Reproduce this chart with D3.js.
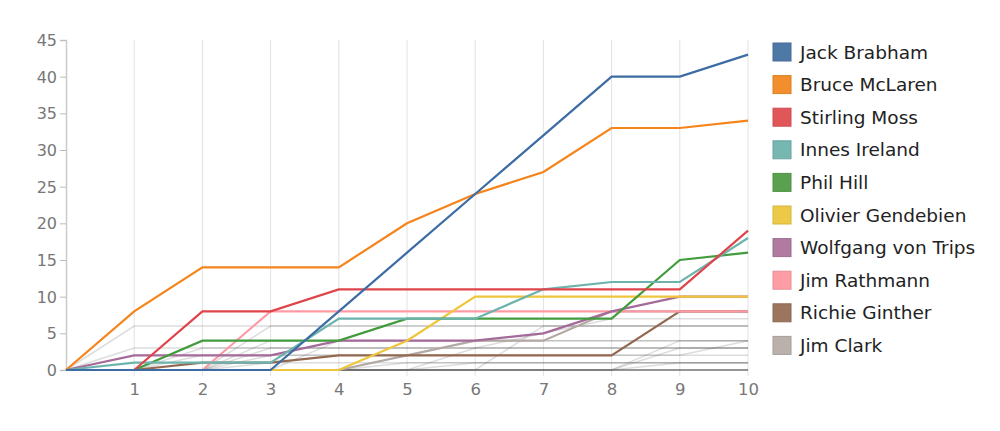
<!DOCTYPE html>
<html>
<head>
    <meta charset="utf-8">
    <style>
        body { margin: 0; padding: 0; overflow: hidden; background-color: #fff; }
        text { font-family: "DejaVu Sans", sans-serif; }
        .axis text { fill: #777; font-size: 16px; }
        .legend text { fill: #222; font-size: 18.5px; }
    </style>
</head>
<body>
    <div id="chart"></div>
    <script src="https://d3js.org/d3.v7.min.js"></script>
    <script>
        // race index 0 = start, 1..10 = rounds
        var rounds = [0, 1, 2, 3, 4, 5, 6, 7, 8, 9, 10];
        var yTicks = [0, 5, 10, 15, 20, 25, 30, 35, 40, 45];

        var drivers = ["Jack Brabham", "Bruce McLaren", "Stirling Moss", "Innes Ireland", "Phil Hill",
            "Olivier Gendebien", "Wolfgang von Trips", "Jim Rathmann", "Richie Ginther", "Jim Clark"];
        var swatchColors = ["#4e79a7", "#f28e2b", "#e15759", "#76b7b2", "#59a14f",
            "#edc948", "#b07aa1", "#ff9da7", "#9c755f", "#bab0ac"];
        var lineColors = ["#3c6ca3", "#f5841a", "#e0444b", "#6cb3ad", "#429b3c",
            "#f0c53c", "#a46a99", "#ff9aa5", "#936850", "#b3a9a4"];

        var brabham   = [0, 0, 0, 0, 8, 16, 24, 32, 40, 40, 43];
        var mclaren   = [0, 8, 14, 14, 14, 20, 24, 27, 33, 33, 34];
        var moss      = [0, 0, 8, 8, 11, 11, 11, 11, 11, 11, 19];
        var ireland   = [0, 1, 1, 1, 7, 7, 7, 11, 12, 12, 18];
        var phill     = [0, 0, 4, 4, 4, 7, 7, 7, 7, 15, 16];
        var gendebien = [0, 0, 0, 0, 0, 4, 10, 10, 10, 10, 10];
        var vontrips  = [0, 2, 2, 2, 4, 4, 4, 5, 8, 10, 10];
        var rathmann  = [0, 0, 0, 8, 8, 8, 8, 8, 8, 8, 8];
        var ginther   = [0, 0, 1, 1, 2, 2, 2, 2, 2, 8, 8];
        var clark     = [0, 0, 0, 0, 0, 2, 4, 4, 8, 8, 8];
        var mainSeries = [brabham, mclaren, moss, ireland, phill, gendebien, vontrips, rathmann, ginther, clark];

        // everyone else, drawn in grey
        var others = [
            [0, 0, 3, 3, 3, 3, 3, 5, 7, 7, 7],   // Brooks
            [0, 6, 6, 6, 6, 6, 6, 6, 6, 6, 6],   // Allison
            [0, 0, 0, 6, 6, 6, 6, 6, 6, 6, 6],   // Ward
            [0, 0, 0, 0, 0, 0, 0, 6, 6, 6, 6],   // Surtees
            [0, 0, 0, 0, 4, 4, 4, 4, 4, 4, 4],   // G. Hill
            [0, 0, 2, 2, 2, 2, 2, 2, 2, 2, 4],   // Bonnier
            [0, 0, 0, 4, 4, 4, 4, 4, 4, 4, 4],   // Goldsmith
            [0, 0, 0, 0, 0, 0, 0, 0, 0, 4, 4],   // Mairesse
            [0, 3, 3, 3, 3, 3, 3, 3, 3, 3, 3],   // Menditeguy
            [0, 0, 0, 3, 3, 3, 3, 3, 3, 3, 3],   // Branson
            [0, 0, 0, 0, 0, 0, 3, 3, 3, 3, 3],   // Taylor
            [0, 0, 0, 0, 0, 0, 0, 0, 0, 3, 3],   // Cabianca
            [0, 0, 0, 2, 2, 2, 2, 2, 2, 2, 2],   // Thomson
            [0, 0, 0, 1, 1, 1, 1, 1, 1, 1, 1],   // Johnson
            [0, 0, 0, 0, 0, 1, 1, 1, 1, 1, 1],   // Bianchi
            [0, 0, 0, 0, 0, 0, 1, 1, 1, 1, 1],   // Flockhart
            [0, 0, 0, 0, 0, 0, 0, 0, 0, 1, 1],   // Herrmann
            [0, 0, 0, 0, 0, 0, 0, 0, 0, 0, 0],
            [0, 0, 0, 0, 0, 0, 0, 0, 0, 0, 0],
            [0, 0, 0, 0, 0, 0, 0, 0, 0, 0, 0],
            [0, 0, 0, 0, 0, 0, 0, 0, 0, 0, 0],
            [0, 0, 0, 0, 0, 0, 0, 0, 0, 0, 0],
            [0, 0, 0, 0, 0, 0, 0, 0, 0, 0, 0]
        ];

        var width = 1000, height = 431;
        var margin = { left: 66, right: 252, top: 40, bottom: 61 };

        var svg = d3.select("#chart").append("svg")
            .attr("width", width)
            .attr("height", height);

        var x = d3.scaleLinear().domain([0, 10]).range([margin.left, width - margin.right]);
        var y = d3.scaleLinear().domain([0, 45]).range([height - margin.bottom, margin.top]);

        // vertical grid
        svg.append("g")
            .selectAll("line")
            .data(rounds.slice(1))
            .enter().append("line")
            .attr("x1", d => x(d)).attr("x2", d => x(d))
            .attr("y1", y(45)).attr("y2", y(0) + 6)
            .attr("stroke", "#e2e2e2")
            .attr("stroke-width", 1);

        var xAxis = svg.append("g")
            .attr("class", "axis")
            .attr("transform", "translate(0," + y(0) + ")")
            .call(d3.axisBottom(x).tickValues(rounds.slice(1)).tickSize(0).tickPadding(13));
        xAxis.select(".domain").remove();
        xAxis.selectAll("text").style("font-size", "16.5px");

        var yAxis = svg.append("g")
            .attr("class", "axis")
            .attr("transform", "translate(" + margin.left + ",0)")
            .call(d3.axisLeft(y).tickValues(yTicks).tickSize(6).tickPadding(3));
        yAxis.select(".domain").attr("stroke", "#ccc").attr("stroke-width", 1.5);
        yAxis.selectAll(".tick line").attr("stroke", "#bbb");
        yAxis.selectAll("text").attr("dy", "0.35em");

        var line = d3.line()
            .x((d, i) => x(rounds[i]))
            .y(d => y(d));

        svg.append("g")
            .selectAll("path")
            .data(others)
            .enter().append("path")
            .attr("d", line)
            .attr("fill", "none")
            .attr("stroke", "#666")
            .attr("stroke-opacity", 0.22)
            .attr("stroke-width", 1.5);

        var idx = d3.range(drivers.length).reverse();
        svg.append("g")
            .selectAll("path")
            .data(idx)
            .enter().append("path")
            .attr("d", i => line(mainSeries[i]))
            .attr("fill", "none")
            .attr("stroke", i => lineColors[i])
            .attr("stroke-width", 2.2);

        var legend = svg.append("g")
            .attr("class", "legend")
            .attr("transform", "translate(773,43)");

        var item = legend.selectAll("g")
            .data(drivers)
            .enter().append("g")
            .attr("transform", (d, i) => "translate(0," + (i * 32.6) + ")");

        item.append("rect")
            .attr("width", 18).attr("height", 18)
            .attr("fill", (d, i) => swatchColors[i])
            .attr("stroke", (d, i) => d3.color(swatchColors[i]).darker(0.3))
            .attr("stroke-width", 1);

        item.append("text")
            .attr("x", 27)
            .attr("y", 9)
            .attr("dy", "0.36em")
            .text(d => d);
    </script>
</body>
</html>
